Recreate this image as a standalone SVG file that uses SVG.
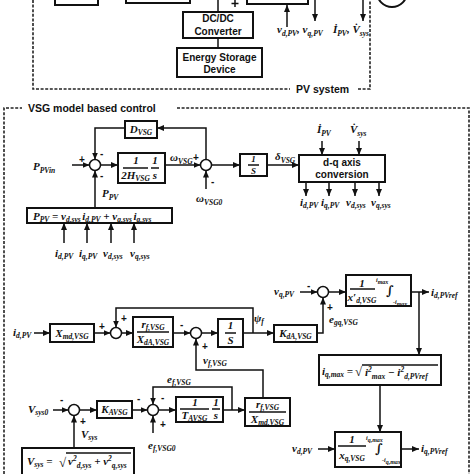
<svg xmlns="http://www.w3.org/2000/svg" width="474" height="474" viewBox="0 0 474 474">
<defs>
<marker id="ah" viewBox="0 0 7 6" refX="7" refY="3" markerWidth="7" markerHeight="6" markerUnits="userSpaceOnUse" orient="auto"><path d="M0,0L7,3L0,6z" fill="#111"/></marker>
</defs>
<style>
.bx{fill:#fff;stroke:#111;stroke-width:2}
.ln{fill:none;stroke:#111;stroke-width:1.5}
.ar{fill:none;stroke:#111;stroke-width:1.5;marker-end:url(#ah)}
.sm{fill:#fff;stroke:#111;stroke-width:1.5}
.ds{fill:none;stroke:#222;stroke-width:1.6;stroke-dasharray:3 1.6}
.t{font-family:"Liberation Sans","Open Sans",sans-serif;font-weight:bold;font-size:10px;fill:#111}
.h{font-family:"Liberation Sans","Open Sans",sans-serif;font-weight:bold;font-size:10.5px;fill:#111}
.m{font-family:"Liberation Serif","DejaVu Serif",serif;font-style:italic;font-weight:bold;font-size:11px;fill:#111}
.c{text-anchor:middle}
.s{font-size:7.5px}
.x{font-size:6px}
.n{font-size:9px}
.g{font-family:"Liberation Sans",sans-serif;font-weight:bold;font-size:10px;fill:#111}
.r{font-family:"Liberation Serif","DejaVu Serif",serif;font-size:13px;fill:#111}
.i{font-family:"DejaVu Serif",serif;font-weight:bold;font-size:13px;fill:#111}
</style>

<g id="pv-system">
<path class="ds" d="M33,0V89H290M358,89H370V0"/>
<text class="h" x="296" y="93">PV system</text>
<rect class="bx" x="55" y="-10" width="43" height="15"/>
<rect class="bx" x="126" y="-10" width="64" height="13"/>
<rect class="bx" x="247" y="-10" width="61" height="14"/>
<circle cx="392" cy="-8" r="15" fill="none" stroke="#111" stroke-width="2"/>
<path class="ln" d="M235,0V7M231.5,3.5H238.5"/>
<text class="m" x="277" y="33">v<tspan class="s" dy="2.5">d,PV</tspan><tspan dy="-2.5">, v</tspan><tspan class="s" dy="2.5">q,PV</tspan></text>
<text class="m" x="333" y="33">İ<tspan class="s" dy="2.5">PV</tspan><tspan dy="-2.5">, V̇</tspan><tspan class="s" dy="2.5">sys</tspan></text>
</g>

<g id="dcdc">
<rect class="bx" x="183" y="12" width="70" height="26"/>
<text class="t c" x="218" y="22">DC/DC</text>
<text class="t c" x="218" y="35">Converter</text>
</g>
<g id="storage">
<rect class="bx" x="177" y="48" width="85" height="29"/>
<text class="t c" x="219.5" y="61">Energy Storage</text>
<text class="t c" x="219.5" y="73">Device</text>
</g>

<g id="vsg-frame">
<path class="ds" d="M4,474V108H22M177,108H469V474"/>
<text class="h" x="28" y="112">VSG model based control</text>
</g>

<g id="connectors">
<path class="ln" d="M218,0V12M218,38V48"/>
<path class="ar" d="M287,27V5"/>
<path class="ar" d="M315,0V21"/>
<path class="ar" d="M363,0V21"/>
<path class="ar" d="M72,165H89.5"/>
<path class="ar" d="M100.5,165H118"/>
<path class="ar" d="M165,165H200.5"/>
<path class="ar" d="M211.5,165H240"/>
<path class="ar" d="M267,165H299"/>
<path class="ar" d="M206,159.5V128H157"/>
<path class="ar" d="M125,128H95V159.5"/>
<path class="ar" d="M206,189V170.5"/>
<path class="ar" d="M95,208V170.5"/>
<path class="ar" d="M64,243V223"/>
<path class="ar" d="M87,243V223"/>
<path class="ar" d="M111,243V223"/>
<path class="ar" d="M134,243V223"/>
<path class="ar" d="M322,141V155"/>
<path class="ar" d="M359,141V155"/>
<path class="ar" d="M306,182V196"/>
<path class="ar" d="M329,182V196"/>
<path class="ar" d="M355,182V196"/>
<path class="ar" d="M379,182V196"/>
<path class="ar" d="M34,333H50"/>
<path class="ar" d="M94,333H110.5"/>
<path class="ar" d="M121.5,333H133"/>
<path class="ar" d="M173,333H190.5"/>
<path class="ar" d="M201.5,333H218"/>
<path class="ar" d="M243,333H274"/>
<path class="ar" d="M253,333V308H116V327.5"/>
<path class="ar" d="M317,333H323V297.5"/>
<path class="ar" d="M300,292H317.5"/>
<path class="ar" d="M328.5,292H346"/>
<path class="ar" d="M411,292H429"/>
<path class="ar" d="M419,292V355"/>
<path class="ar" d="M380,385V432"/>
<path class="ar" d="M318,449H335"/>
<path class="ar" d="M401,449H419"/>
<path class="ar" d="M263,398V370H196V338.5"/>
<path class="ar" d="M53,410H68.5"/>
<path class="ar" d="M79.5,410H97"/>
<path class="ar" d="M132,410H147.5"/>
<path class="ar" d="M158.5,410H176"/>
<path class="ar" d="M223,410H245"/>
<path class="ar" d="M232,410V387H153V404.5"/>
<path class="ar" d="M153,433V415.5"/>
<path class="ar" d="M74,448V415.5"/>
</g>

<g id="sum1"><circle class="sm" cx="95" cy="165" r="5.5"/></g>
<g id="sum2"><circle class="sm" cx="206" cy="165" r="5.5"/></g>
<g id="d-vsg">
<rect class="bx" x="125" y="121" width="32" height="17"/>
<text class="m c" x="141" y="133">D<tspan class="s" dy="2">VSG</tspan></text>
</g>
<g id="inertia">
<rect class="bx" x="118" y="153" width="47" height="30"/>
<text class="m c" x="136" y="164">1</text>
<line class="ln" x1="123" y1="168" x2="148" y2="168"/>
<text class="m c" x="135.5" y="179">2H<tspan class="s" dy="2">VSG</tspan></text>
<text class="m c" x="155" y="164">1</text>
<line class="ln" x1="151" y1="168" x2="159" y2="168"/>
<text class="m c" x="155" y="179">s</text>
</g>
<g id="integ1">
<rect class="bx" x="240" y="154" width="27" height="22"/>
<text class="m c n" x="253.5" y="162">1</text>
<line class="ln" x1="248" y1="165" x2="259" y2="165"/>
<text class="m c n" x="253.5" y="174">S</text>
</g>
<g id="dq">
<rect class="bx" x="299" y="155" width="86" height="27"/>
<text class="t c" x="342" y="166">d-q axis</text>
<text class="t c" x="342" y="178">conversion</text>
</g>
<g id="ppv-calc">
<rect class="bx" x="27" y="208" width="145" height="15"/>
<text class="m" x="33" y="219.5">P<tspan class="s" dy="2">PV</tspan><tspan dy="-2"> = v</tspan><tspan class="s" dy="2">d,sys</tspan><tspan dx="1.5" dy="-2">i</tspan><tspan class="s" dy="2">d,PV</tspan><tspan dy="-2"> + v</tspan><tspan class="s" dy="2">q,sys</tspan><tspan dx="1.5" dy="-2">i</tspan><tspan class="s" dy="2">q,sys</tspan></text>
</g>
<g id="labels-row1">
<text class="m" x="33" y="170">P<tspan class="s" dy="2.5">PVin</tspan></text>
<text class="g" x="79" y="163">+</text>
<text class="g" x="100" y="157">-</text>
<text class="g" x="100" y="179">-</text>
<text class="m" x="170" y="161">ω<tspan class="s" dy="2.5">VSG</tspan></text>
<text class="g" x="193" y="161">+</text>
<text class="g" x="211" y="185">-</text>
<text class="m" x="196" y="202">ω<tspan class="s" dy="2.5">VSG0</tspan></text>
<text class="m" x="275" y="160">δ<tspan class="s" dy="2.5">VSG</tspan></text>
<text class="m" x="102" y="197">P<tspan class="s" dy="2.5">PV</tspan></text>
<text class="m" x="317" y="133">İ<tspan class="s" dy="2.5">PV</tspan></text>
<text class="m" x="350" y="133">V̇<tspan class="s" dy="2.5">sys</tspan></text>
<text class="m" x="300" y="206">i<tspan class="s" dy="2">d,PV</tspan></text>
<text class="m" x="321" y="206">i<tspan class="s" dy="2">q,PV</tspan></text>
<text class="m" x="346" y="206">v<tspan class="s" dy="2">d,sys</tspan></text>
<text class="m" x="371" y="206">v<tspan class="s" dy="2">q,sys</tspan></text>
<text class="m" x="55" y="257">i<tspan class="s" dy="2">d,PV</tspan></text>
<text class="m" x="79" y="257">i<tspan class="s" dy="2">q,PV</tspan></text>
<text class="m" x="103" y="257">v<tspan class="s" dy="2">d,sys</tspan></text>
<text class="m" x="130" y="257">v<tspan class="s" dy="2">q,sys</tspan></text>
</g>

<g id="sum3"><circle class="sm" cx="116" cy="333" r="5.5"/></g>
<g id="sum4"><circle class="sm" cx="196" cy="333" r="5.5"/></g>
<g id="sum5"><circle class="sm" cx="323" cy="292" r="5.5"/></g>
<g id="xmd">
<rect class="bx" x="50" y="324" width="44" height="18"/>
<text class="m c" x="72" y="337">X<tspan class="s" dy="2">md,VSG</tspan></text>
</g>
<g id="rf-xda">
<rect class="bx" x="133" y="317" width="40" height="30"/>
<text class="m c" x="153" y="328">r<tspan class="s" dy="2">f,VSG</tspan></text>
<line class="ln" x1="137" y1="332" x2="169" y2="332"/>
<text class="m c" x="153" y="343">X<tspan class="s" dy="2">dA,VSG</tspan></text>
</g>
<g id="integ2">
<rect class="bx" x="218" y="319" width="25" height="28"/>
<text class="m c" x="230.5" y="329">1</text>
<line class="ln" x1="225" y1="333" x2="236" y2="333"/>
<text class="m c" x="230.5" y="344">S</text>
</g>
<g id="kda">
<rect class="bx" x="274" y="325" width="43" height="17"/>
<text class="m c" x="295.5" y="337">K<tspan class="s" dy="2">dA,VSG</tspan></text>
</g>
<g id="id-limiter">
<rect class="bx" x="346" y="275" width="65" height="31"/>
<text class="m c" x="362" y="287">1</text>
<line class="ln" x1="350" y1="289" x2="375" y2="289"/>
<text class="m c" x="362" y="301">x′<tspan class="s" dy="2">d,VSG</tspan></text>
<text class="i" x="386" y="295">∫</text>
<text class="m x" x="376" y="282">i<tspan dy="1.5">max</tspan></text>
<text class="m x" x="393" y="304">-i<tspan dy="1.5">max</tspan></text>
</g>
<g id="iqmax">
<rect class="bx" x="319" y="355" width="122" height="30"/>
<text class="m" x="322" y="375">i<tspan class="s" dy="2">q,max</tspan><tspan dy="-2"> =</tspan></text>
<text class="r" x="355" y="376">√</text>
<line class="ln" x1="362" y1="365" x2="438" y2="365"/>
<text class="m" x="365" y="376">i<tspan class="s" dy="-4">2</tspan><tspan class="s" dy="6.5">max</tspan><tspan dy="-2.5"> − i</tspan><tspan class="s" dy="-4">2</tspan><tspan class="s" dy="6.5">d,PVref</tspan></text>
</g>
<g id="iq-limiter">
<rect class="bx" x="335" y="432" width="66" height="35"/>
<text class="m c" x="352" y="443">1</text>
<line class="ln" x1="338" y1="446" x2="366" y2="446"/>
<text class="m c" x="352" y="459">x<tspan class="s" dy="2">q,VSG</tspan></text>
<text class="i" x="375" y="453">∫</text>
<text class="m x" x="366" y="440">i<tspan dy="1.5">q,max</tspan></text>
<text class="m x" x="382" y="462">-i<tspan dy="1.5">q,max</tspan></text>
</g>
<g id="labels-row2">
<text class="m" x="13" y="336">i<tspan class="s" dy="2">d,PV</tspan></text>
<text class="g" x="99" y="330">+</text>
<text class="g" x="121" y="322">+</text>
<text class="g" x="180" y="328">-</text>
<text class="g" x="202" y="350">+</text>
<text class="m" x="254" y="322">ψ<tspan class="s" dy="2">f</tspan></text>
<text class="m" x="203" y="364">v<tspan class="s" dy="2">f,VSG</tspan></text>
<text class="g" x="327" y="311">+</text>
<text class="m" x="329" y="323">e<tspan class="s" dy="2">gq,VSG</tspan></text>
<text class="m" x="274" y="295">v<tspan class="s" dy="2">q,PV</tspan></text>
<text class="g" x="307" y="289">-</text>
<text class="m" x="431" y="296">i<tspan class="s" dy="2">d,PVref</tspan></text>
<text class="m" x="292" y="452">v<tspan class="s" dy="2">d,PV</tspan></text>
<text class="m" x="421" y="452">i<tspan class="s" dy="2">q,PVref</tspan></text>
</g>

<g id="sum6"><circle class="sm" cx="74" cy="410" r="5.5"/></g>
<g id="sum7"><circle class="sm" cx="153" cy="410" r="5.5"/></g>
<g id="kavsg">
<rect class="bx" x="97" y="401" width="35" height="17"/>
<text class="m c" x="114.5" y="413">K<tspan class="s" dy="2">AVSG</tspan></text>
</g>
<g id="exciter">
<rect class="bx" x="176" y="397" width="47" height="25"/>
<text class="m c" x="195" y="406">1</text>
<line class="ln" x1="180" y1="409" x2="209" y2="409"/>
<text class="m c" x="194.5" y="419">T<tspan class="s" dy="2">AVSG</tspan></text>
<text class="m c" x="216" y="406">1</text>
<line class="ln" x1="212" y1="409" x2="220" y2="409"/>
<text class="m c" x="216" y="419">s</text>
</g>
<g id="rf-xmd">
<rect class="bx" x="245" y="398" width="45" height="28"/>
<text class="m c" x="267.5" y="408">r<tspan class="s" dy="2">f,VSG</tspan></text>
<line class="ln" x1="249" y1="412" x2="286" y2="412"/>
<text class="m c" x="267.5" y="423">X<tspan class="s" dy="2">md,VSG</tspan></text>
</g>
<g id="vsys-calc">
<rect class="bx" x="22" y="448" width="112" height="30"/>
<text class="m" x="27" y="465">V<tspan class="s" dy="2">sys</tspan><tspan dy="-2"> =</tspan></text>
<text class="r" x="59" y="467">√</text>
<line class="ln" x1="66" y1="453" x2="131" y2="453"/>
<text class="m" x="68" y="465">v<tspan class="s" dy="-4">2</tspan><tspan class="s" dy="6.5">d,sys</tspan><tspan dy="-2.5"> + v</tspan><tspan class="s" dy="-4">2</tspan><tspan class="s" dy="6.5">q,sys</tspan></text>
</g>
<g id="labels-row3">
<text class="m" x="28" y="413">V<tspan class="s" dy="2">sys0</tspan></text>
<text class="g" x="60" y="403">-</text>
<text class="g" x="80" y="425">+</text>
<text class="m" x="81" y="438">V<tspan class="s" dy="2">sys</tspan></text>
<text class="g" x="137" y="402">-</text>
<text class="g" x="161" y="401">-</text>
<text class="m" x="167" y="383">e<tspan class="s" dy="1.5">f,VSG</tspan></text>
<text class="g" x="160" y="428">+</text>
<text class="m" x="148" y="449">e<tspan class="s" dy="2">f,VSG0</tspan></text>
</g>
</svg>
